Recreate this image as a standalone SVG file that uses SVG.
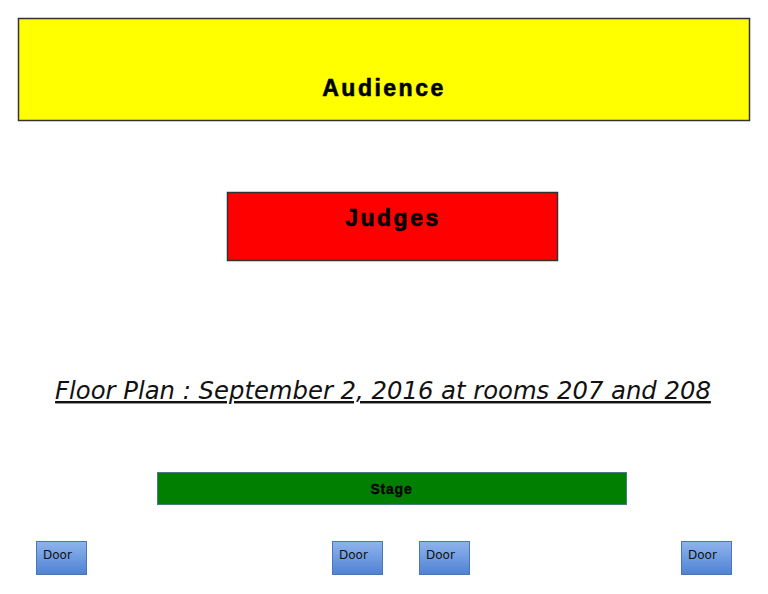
<svg xmlns="http://www.w3.org/2000/svg" width="768" height="594" viewBox="0 0 768 594">
<defs>
<linearGradient id="doorGrad" x1="0" y1="0" x2="0" y2="1">
<stop offset="0" stop-color="#8fb4ec"/>
<stop offset="1" stop-color="#4f82d4"/>
</linearGradient>
<style>
.big{font-family:"Liberation Sans",Arial,sans-serif;font-weight:bold;font-size:23px;fill:#000;letter-spacing:2.5px;stroke:#000;stroke-width:0.6}
.door rect{fill:url(#doorGrad);stroke:#4a76b8;stroke-width:1}
.door text{font-family:"DejaVu Sans",sans-serif;font-size:12px;fill:#111}
</style>
</defs>
<rect width="768" height="594" fill="#fff"/>
<g id="audience">
<rect x="18.5" y="18.5" width="731" height="102" fill="#ffff00" stroke="#333" stroke-width="1.5"/>
<text class="big" x="384" y="96" text-anchor="middle">Audience</text>
</g>
<g id="judges">
<rect x="227.5" y="192.5" width="330" height="68" fill="#ff0000" stroke="#333" stroke-width="1.5"/>
<text class="big" x="393" y="226" text-anchor="middle">Judges</text>
</g>
<g id="title">
<text x="383" y="399" text-anchor="middle" font-family="DejaVu Sans,sans-serif" font-style="italic" font-size="24.3" fill="#111" text-decoration="underline">Floor Plan : September 2, 2016 at rooms 207 and 208</text>
</g>
<g id="stage">
<rect x="157.5" y="472.5" width="469" height="32" fill="#007f00" stroke="#4a7a8a" stroke-width="1"/>
<text x="391.5" y="494" text-anchor="middle" font-family="Liberation Sans,Arial,sans-serif" font-weight="bold" font-size="14" letter-spacing="0.8" stroke="#000" stroke-width="0.3" fill="#000">Stage</text>
</g>
<g id="door1" class="door"><rect x="36.5" y="541.5" width="50" height="33"/><text x="43" y="559">Door</text></g>
<g id="door2" class="door"><rect x="332.5" y="541.5" width="50" height="33"/><text x="339" y="559">Door</text></g>
<g id="door3" class="door"><rect x="419.5" y="541.5" width="50" height="33"/><text x="426" y="559">Door</text></g>
<g id="door4" class="door"><rect x="681.5" y="541.5" width="50" height="33"/><text x="688" y="559">Door</text></g>
<g id="connectors"/>
</svg>
